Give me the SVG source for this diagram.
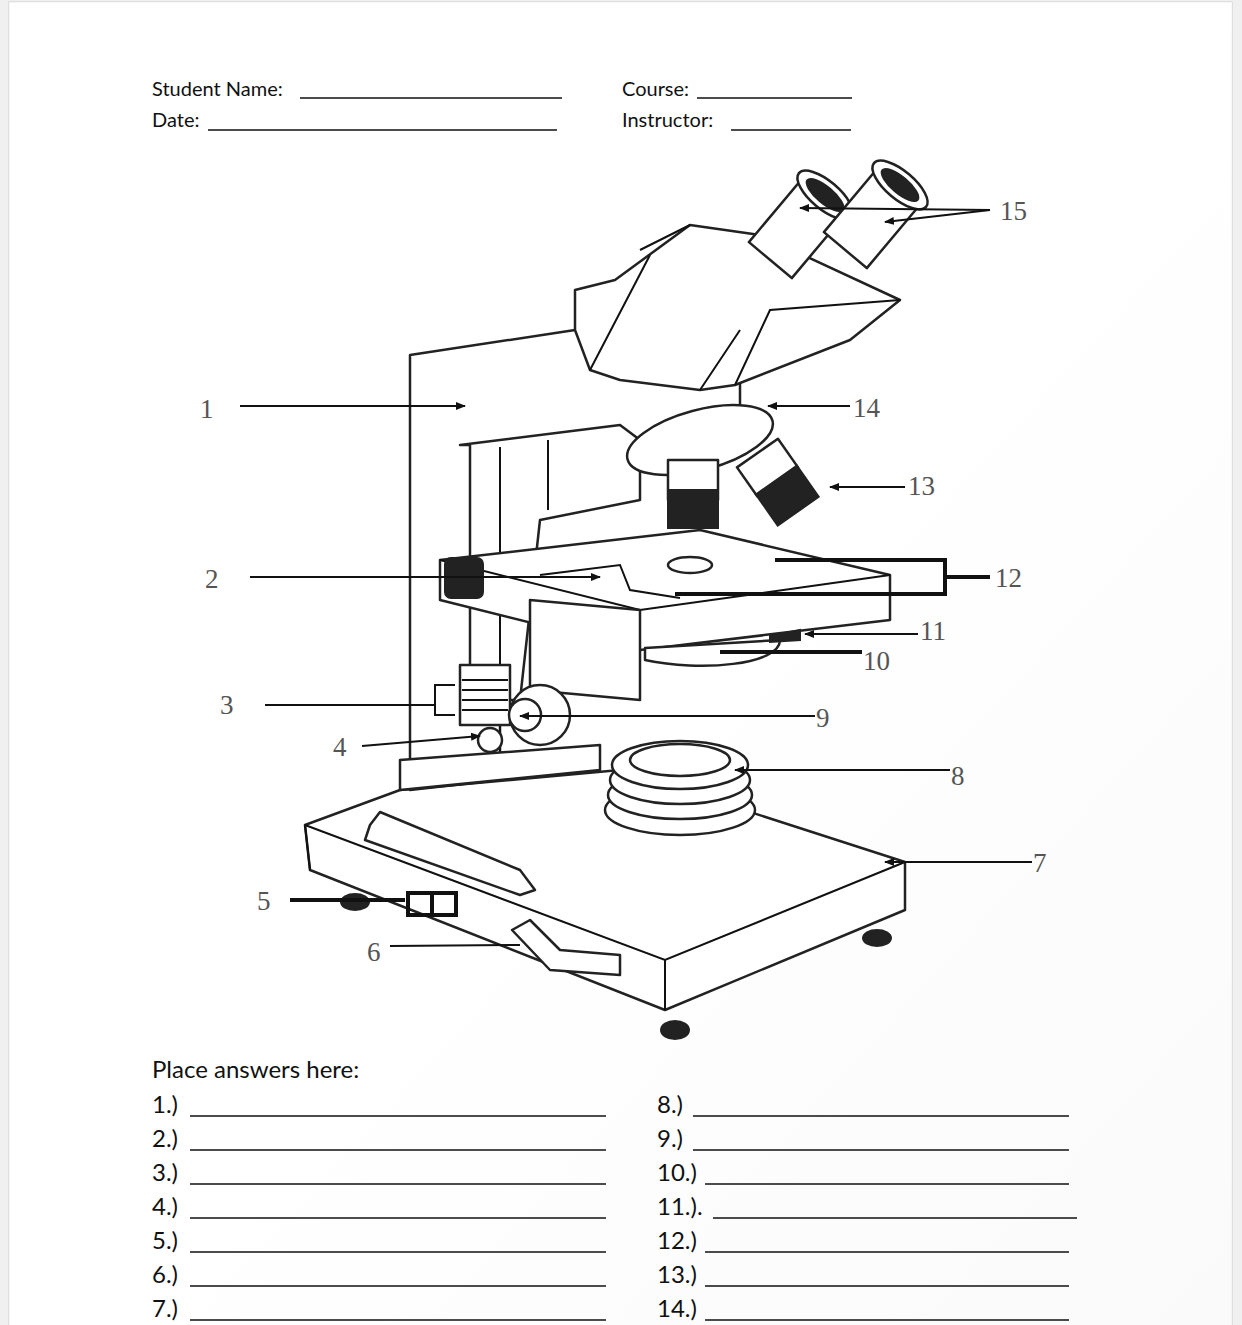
<svg xmlns="http://www.w3.org/2000/svg" width="1242" height="1325" viewBox="0 0 1242 1325">
<defs>
<style>
.h{font-family:"Lato","Liberation Sans",sans-serif;font-size:20px;fill:#111}
.a{font-family:"Lato","Liberation Sans",sans-serif;font-size:24px;fill:#111}
.n{font-family:"Liberation Serif",serif;font-size:27px;fill:#555}
.u{stroke:#111;stroke-width:1.3}
.m{fill:#fff;stroke:#222;stroke-width:2.5;stroke-linejoin:round}
.d{fill:#222;stroke:#222;stroke-width:2}
.l{stroke:#111;stroke-width:2;fill:none}
.t{stroke:#111;stroke-width:4;fill:none}
</style>
<marker id="ar" viewBox="0 0 10 10" refX="9" refY="5" markerWidth="5" markerHeight="5" orient="auto"><path d="M0,1 L10,5 L0,9z" fill="#111"/></marker>
<linearGradient id="g" x1="0" y1="0" x2="1" y2="1"><stop offset="0.5" stop-color="#fff"/><stop offset="1" stop-color="#eee"/></linearGradient>
</defs>
<rect width="1242" height="1325" fill="#f0f0f0"/>
<rect x="9" y="2" width="1223" height="1330" fill="url(#g)" stroke="#ccc"/>
<rect x="9" y="2" width="1223" height="1330" fill="#fff" opacity="0.7"/>
<g id="header">
<text class="h" x="152" y="96">Student Name:</text><line class="u" x1="300" y1="98" x2="562" y2="98"/>
<text class="h" x="152" y="127">Date:</text><line class="u" x1="208" y1="130" x2="557" y2="130"/>
<text class="h" x="622" y="96">Course:</text><line class="u" x1="697" y1="98" x2="852" y2="98"/>
<text class="h" x="622" y="127">Instructor:</text><line class="u" x1="731" y1="130" x2="851" y2="130"/>
</g>
<g id="microscope">
<path class="m" d="M305,825 L400,790 L620,770 L905,862 L905,910 L665,1010 L310,870 Z"/>
<path class="l" d="M305,825 L310,870 M305,825 L665,960 L905,862 M665,960 L665,1010"/>
<path class="m" d="M370,825 L380,812 L520,870 L535,890 L520,895 L365,840 Z"/>
<ellipse class="d" cx="355" cy="902" rx="14" ry="8"/><ellipse class="d" cx="877" cy="938" rx="14" ry="8"/><ellipse class="d" cx="675" cy="1030" rx="14" ry="9"/>
<path class="m" d="M512,930 L530,920 L560,950 L620,955 L620,975 L550,970 Z"/>
<path class="m" d="M410,355 L575,330 L740,355 L740,420 L630,440 L500,450 L500,780 L410,790 Z"/>
<path class="m" d="M460,445 L620,425 L640,440 L640,500 L540,520 L520,700 L470,700 L470,445 Z"/>
<line class="l" x1="500" y1="447" x2="500" y2="770"/><line class="l" x1="548" y1="440" x2="548" y2="510"/>
<path class="m" d="M400,760 L600,745 L600,770 L400,790 Z"/>
<path class="m" d="M575,330 L575,290 L615,280 L690,225 L760,235 L900,300 L850,340 L735,385 L700,390 L620,380 L590,370 Z"/>
<path class="l" d="M590,370 L650,255 M690,225 L640,250 M735,385 L770,310 L900,300 M700,390 L740,330"/>
<g transform="rotate(40 825 195)"><rect class="m" x="797" y="195" width="56" height="85"/><ellipse class="m" cx="825" cy="195" rx="34" ry="14"/><ellipse class="d" cx="825" cy="195" rx="23" ry="8"/></g>
<g transform="rotate(40 900 185)"><rect class="m" x="872" y="185" width="56" height="85"/><ellipse class="m" cx="900" cy="185" rx="34" ry="14"/><ellipse class="d" cx="900" cy="185" rx="23" ry="8"/></g>
<ellipse class="m" cx="700" cy="440" rx="75" ry="30" transform="rotate(-15 700 440)"/>
<rect class="m" x="668" y="460" width="50" height="40"/><rect class="d" x="668" y="490" width="50" height="38"/>
<g transform="rotate(-35 780 480)"><rect class="m" x="752" y="445" width="50" height="35"/><rect class="d" x="752" y="478" width="50" height="38"/></g>
<path class="m" d="M440,560 L700,530 L890,575 L890,620 L640,650 L440,600 Z"/>
<path class="l" d="M640,610 L640,650 M440,560 L640,610 L890,575"/>
<ellipse class="m" cx="690" cy="565" rx="22" ry="8"/>
<path class="l" d="M540,575 L620,565 L630,590 L680,598"/>
<rect class="d" x="445" y="558" width="38" height="40" rx="6" fill="#444"/>
<path class="m" d="M530,600 L640,610 L640,700 L530,690 Z"/>
<path class="m" d="M645,648 L780,640 C780,665 700,672 645,660 Z"/>
<path class="d" d="M770,636 L800,630 L800,640 L770,642 Z"/>
<rect class="m" x="460" y="665" width="50" height="60"/>
<path class="l" d="M462,680 H508 M462,690 H508 M462,700 H508 M462,710 H508"/>
<circle class="m" cx="540" cy="715" r="30"/><circle class="m" cx="525" cy="715" r="16"/>
<circle class="m" cx="490" cy="740" r="12"/>
<ellipse class="m" cx="680" cy="810" rx="75" ry="25"/>
<ellipse class="m" cx="680" cy="795" rx="72" ry="24"/>
<ellipse class="m" cx="680" cy="780" rx="70" ry="24"/>
<ellipse class="m" cx="680" cy="765" rx="68" ry="24"/>
<ellipse class="m" cx="680" cy="760" rx="50" ry="16"/>
</g>
<g id="connectors">
<line class="l" x1="240" y1="406" x2="465" y2="406" marker-end="url(#ar)"/>
<line class="l" x1="250" y1="577" x2="600" y2="577" marker-end="url(#ar)"/>
<line class="l" x1="265" y1="705" x2="435" y2="705"/>
<path class="l" d="M455,685 H435 V715 H455"/>
<line class="l" x1="362" y1="746" x2="480" y2="736" marker-end="url(#ar)"/>
<line class="t" x1="290" y1="900" x2="405" y2="900"/>
<rect class="t" x="408" y="893" width="48" height="22"/><line class="t" x1="432" y1="893" x2="432" y2="915"/>
<line class="l" x1="390" y1="946" x2="520" y2="945"/>
<line class="l" x1="1032" y1="862" x2="885" y2="862" marker-end="url(#ar)"/>
<line class="l" x1="950" y1="770" x2="735" y2="770" marker-end="url(#ar)"/>
<line class="l" x1="815" y1="716" x2="520" y2="716" marker-end="url(#ar)"/>
<line class="t" x1="862" y1="652" x2="720" y2="652"/>
<line class="l" x1="918" y1="634" x2="805" y2="634" marker-end="url(#ar)"/>
<path class="t" d="M775,560 H945 V594 H675"/><line class="t" x1="945" y1="577" x2="990" y2="577"/>
<line class="l" x1="905" y1="487" x2="830" y2="487" marker-end="url(#ar)"/>
<line class="l" x1="850" y1="406" x2="768" y2="406" marker-end="url(#ar)"/>
<line class="l" x1="990" y1="210" x2="800" y2="208" marker-end="url(#ar)"/>
<line class="l" x1="990" y1="210" x2="885" y2="222" marker-end="url(#ar)"/>
</g>
<g id="labels">
<text class="n" x="200" y="418">1</text><text class="n" x="205" y="588">2</text><text class="n" x="220" y="714">3</text>
<text class="n" x="333" y="756">4</text><text class="n" x="257" y="910">5</text><text class="n" x="367" y="961">6</text>
<text class="n" x="1033" y="872">7</text><text class="n" x="951" y="785">8</text><text class="n" x="816" y="727">9</text>
<text class="n" x="863" y="670">10</text><text class="n" x="920" y="640">11</text><text class="n" x="995" y="587">12</text>
<text class="n" x="908" y="495">13</text><text class="n" x="853" y="417">14</text><text class="n" x="1000" y="220">15</text>
</g>
<g id="answers">
<text class="a" x="152" y="1078">Place answers here:</text>
<text class="a" x="152" y="1113">1.)</text><text class="a" x="152" y="1147">2.)</text><text class="a" x="152" y="1181">3.)</text>
<text class="a" x="152" y="1215">4.)</text><text class="a" x="152" y="1249">5.)</text><text class="a" x="152" y="1283">6.)</text><text class="a" x="152" y="1317">7.)</text>
<g class="u">
<line x1="190" y1="1116" x2="606" y2="1116"/><line x1="190" y1="1150" x2="606" y2="1150"/><line x1="190" y1="1184" x2="606" y2="1184"/>
<line x1="190" y1="1218" x2="606" y2="1218"/><line x1="190" y1="1252" x2="606" y2="1252"/><line x1="190" y1="1286" x2="606" y2="1286"/><line x1="190" y1="1320" x2="606" y2="1320"/>
<line x1="693" y1="1116" x2="1069" y2="1116"/><line x1="693" y1="1150" x2="1069" y2="1150"/><line x1="705" y1="1184" x2="1069" y2="1184"/>
<line x1="713" y1="1218" x2="1077" y2="1218"/><line x1="705" y1="1252" x2="1069" y2="1252"/><line x1="705" y1="1286" x2="1069" y2="1286"/><line x1="705" y1="1320" x2="1069" y2="1320"/>
</g>
<text class="a" x="657" y="1113">8.)</text><text class="a" x="657" y="1147">9.)</text><text class="a" x="657" y="1181">10.)</text>
<text class="a" x="657" y="1215">11.).</text><text class="a" x="657" y="1249">12.)</text><text class="a" x="657" y="1283">13.)</text><text class="a" x="657" y="1317">14.)</text>
</g>
</svg>
